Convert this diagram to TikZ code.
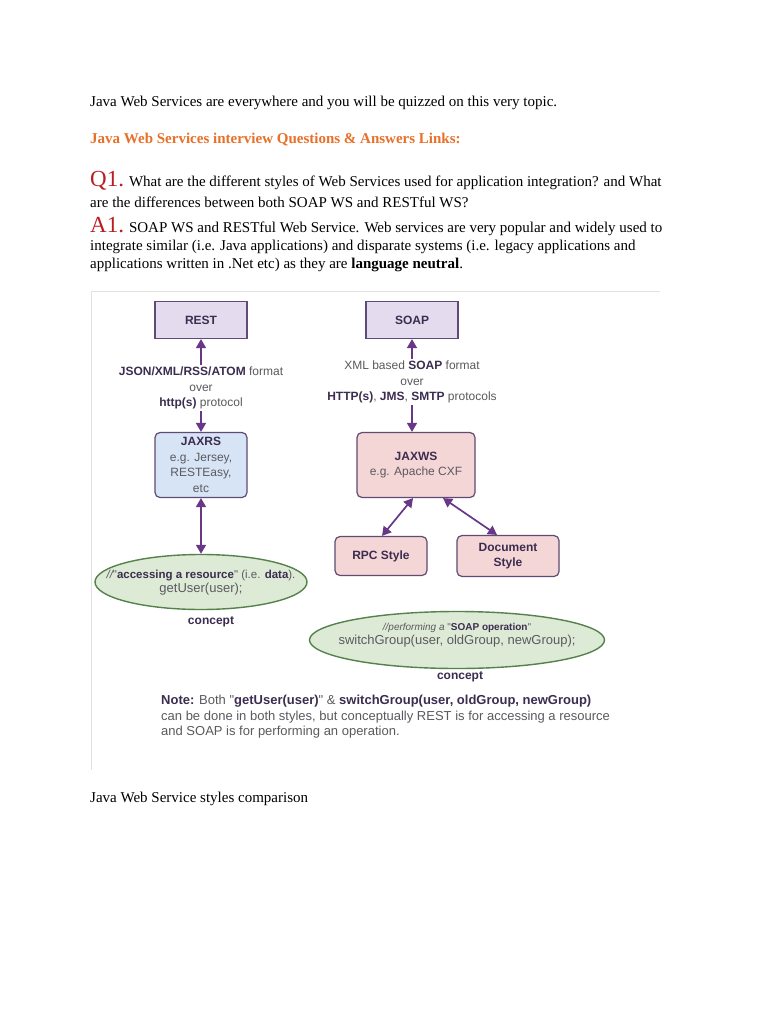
\documentclass[tikz,border=0pt]{standalone}
\usepackage{fontspec}
\setmainfont{Liberation Serif}
\newfontfamily\diagfont{Liberation Sans}
\usetikzlibrary{positioning,shapes.geometric,arrows.meta}
\definecolor{linkorange}{RGB}{232,112,40}
\definecolor{qred}{RGB}{185,30,35}
\definecolor{boxline}{RGB}{95,75,115}
\definecolor{boxtext}{RGB}{60,45,80}
\definecolor{dgtext}{RGB}{90,90,95}
\definecolor{restfill}{RGB}{228,220,238}
\definecolor{jaxrsfill}{RGB}{214,228,246}
\definecolor{jaxwsfill}{RGB}{244,214,214}
\definecolor{ovalfill}{RGB}{221,234,214}
\definecolor{ovalline}{RGB}{85,130,75}
\definecolor{arrcol}{RGB}{105,55,135}
\definecolor{framegray}{RGB}{225,225,225}
\newcommand\dgbold[1]{{\color{boxtext}\bfseries #1}}

\begin{document}
\begin{tikzpicture}[
    x=1pt, y=-1pt,
    every node/.style={inner sep=0pt},
    para/.style={anchor=base west, font=\fontsize{15}{18}\selectfont},
    dg/.style={font=\diagfont\fontsize{12}{15.5}\selectfont, text=dgtext, align=center},
    sqbox/.style={dg, draw=boxline, line width=1.2pt, fill=restfill, minimum width=92pt, minimum height=37pt},
    rdbox/.style={dg, draw=boxline, line width=1.2pt, rounded corners=5pt},
    oval/.style={ellipse, draw=ovalline, fill=ovalfill, line width=1.4pt},
    cpt/.style={dg, text=boxtext, font=\diagfont\bfseries\fontsize{12}{15}\selectfont},
    arr/.style={-{Triangle[length=9pt,width=10pt]}, line width=1.7pt, draw=arrcol},
    arrtwo/.style={{Triangle[length=9pt,width=10pt]}-{Triangle[length=9pt,width=10pt]}, line width=1.7pt, draw=arrcol}
  ]
  \useasboundingbox[fill=white] (0,0) rectangle (768,1024);

  % text above the picture
  \node[para] (intro) at (90,107) {Java Web Services are everywhere and you will be quizzed on this very topic.};
  \node[para, text=linkorange, font=\bfseries\fontsize{15}{18}\selectfont] (links) at (90,144) {Java Web Services interview Questions \& Answers Links:};
  \node[para] (qone) at (90,187) {{\color{qred}\fontsize{23}{24}\selectfont Q1.} What are the different styles of Web Services used for application integration? and What};
  \node[para] (qtwo) at (90,208) {are the differences between both SOAP WS and RESTful WS?};
  \node[para] (aone) at (90,233) {{\color{qred}\fontsize{23}{24}\selectfont A1.} SOAP WS and RESTful Web Service. Web services are very popular and widely used to};
  \node[para] (atwo) at (90,250) {integrate similar (i.e. Java applications) and disparate systems (i.e. legacy applications and};
  \node[para] (athree) at (90,268) {applications written in .Net etc) as they are \textbf{language neutral}.};

  % frame of the picture
  \draw[framegray, line width=1pt] (660,291) -- (91,291) -- (91,770);

  % REST side
  \node[sqbox, text=boxtext, font=\diagfont\bfseries\fontsize{12}{15}\selectfont] (rest) at (201,320) {REST};
  \node[dg, inner sep=2pt] (restfmt) at (201,388) {\dgbold{JSON/XML/RSS/ATOM} format\\over\\\dgbold{http(s)} protocol};
  \node[rdbox, fill=jaxrsfill, minimum width=92pt, minimum height=65pt] (jaxrs) at (201,465) {\dgbold{JAXRS}\\e.g. Jersey,\\RESTEasy,\\etc};
  \node[oval, minimum width=212pt, minimum height=55pt] (getuser) at (201,582) {};
  \node[dg, font=\diagfont\fontsize{11.5}{14}\selectfont] (getusertxt) at ([yshift=-1pt]getuser.center) {{\itshape //}"\dgbold{accessing a resource}" (i.e. \dgbold{data}).\\{\fontsize{13}{15}\selectfont getUser(user);}};
  \node[cpt] (cptrest) at (211,622) {concept};

  \draw[arr] (restfmt.north) -- (rest.south);
  \draw[arr] (restfmt.south) -- (jaxrs.north);
  \draw[arrtwo] (jaxrs.south) -- (getuser.north);

  % SOAP side
  \node[sqbox, text=boxtext, font=\diagfont\bfseries\fontsize{12}{15}\selectfont] (soap) at (412,320) {SOAP};
  \node[dg, inner sep=2pt] (soapfmt) at (412,382) {XML based \dgbold{SOAP} format\\over\\\dgbold{HTTP(s)}, \dgbold{JMS}, \dgbold{SMTP} protocols};
  \node[rdbox, fill=jaxwsfill, minimum width=118pt, minimum height=65pt] (jaxws) at (416,465) {\dgbold{JAXWS}\\e.g. Apache CXF};
  \node[rdbox, fill=jaxwsfill, text=boxtext, font=\diagfont\bfseries\fontsize{12}{15.5}\selectfont, minimum width=92pt, minimum height=39pt] (rpc) at (381,556) {RPC Style};
  \node[rdbox, fill=jaxwsfill, text=boxtext, font=\diagfont\bfseries\fontsize{12}{15.5}\selectfont, minimum width=102pt, minimum height=41pt] (docstyle) at (508,556) {Document\\Style};
  \node[oval, minimum width=295pt, minimum height=57pt] (switch) at (457,640) {};
  \node[dg] (switchtxt) at ([yshift=5pt]switch.center) {{\fontsize{10}{12}\selectfont\itshape //performing a \upshape"\dgbold{SOAP operation}"}\\[-1pt]{\fontsize{13}{15}\selectfont switchGroup(user, oldGroup, newGroup);}};
  \node[cpt] (cptsoap) at (460,677) {concept};

  \draw[arr] (soapfmt.north) -- (soap.south);
  \draw[arr] (soapfmt.south) -- (soapfmt.south |- jaxws.north);
  \draw[arrtwo] ([xshift=-3pt]jaxws.south) -- ([xshift=1pt]rpc.north);
  \draw[arrtwo] ([xshift=27pt]jaxws.south) -- ([xshift=-11pt]docstyle.north);

  % note under the picture
  \node[dg, anchor=north west, align=left, font=\diagfont\fontsize{13}{15.5}\selectfont] (note) at (161,695) {\dgbold{Note:} Both "\dgbold{getUser(user)}" \& \dgbold{switchGroup(user, oldGroup, newGroup)}\\can be done in both styles, but conceptually REST is for accessing a resource\\and SOAP is for performing an operation.};

  % caption
  \node[para] (caption) at (90,802) {Java Web Service styles comparison};
\end{tikzpicture}
\end{document}
